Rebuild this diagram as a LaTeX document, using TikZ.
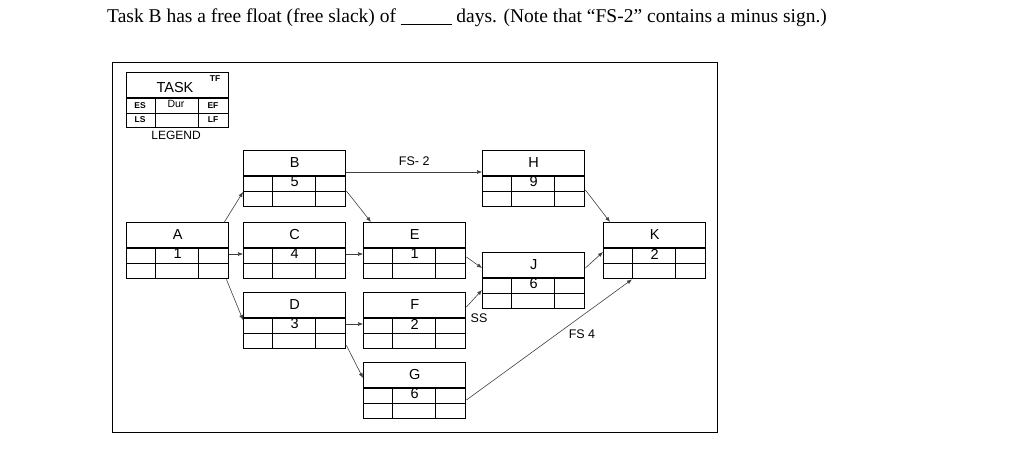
\documentclass[tikz,border=0pt]{standalone}
\usepackage{fontspec}
\setmainfont{Liberation Serif}
\newfontfamily\sansf{Liberation Sans}
\usetikzlibrary{calc,arrows.meta}
\begin{document}
\begin{tikzpicture}[x=1pt,y=-1pt,
  box/.style={draw,line width=1.4pt,minimum width=102pt,minimum height=56pt,anchor=north west,inner sep=0pt},
  arr/.style={draw=black!75,line width=0.6pt,-{Latex[length=5pt,width=4pt]}},
  lbl/.style={font=\sansf\fontsize{12.5}{14}\selectfont,inner sep=0pt},
  big/.style={font=\sansf\fontsize{14.5}{16}\selectfont,inner sep=0pt},
  tiny/.style={font=\sansf\bfseries\fontsize{8.5}{9}\selectfont,inner sep=0pt}]
\useasboundingbox (0,0) rectangle (1024,460);
\newcommand{\tsk}[5]{%
  \node[box] (#1) at (#2,#3) {};
  \draw[line width=1.4pt] ($(#1.north west)+(0,26)$) -- ($(#1.north east)+(0,26)$);
  \draw[line width=0.6pt] ($(#1.north west)+(0,41)$) -- ($(#1.north east)+(0,41)$);
  \draw[line width=1pt] ($(#1.north west)+(29,26)$) -- ($(#1.south west)+(29,0)$);
  \draw[line width=1pt] ($(#1.north west)+(72,26)$) -- ($(#1.south west)+(72,0)$);
  \node[big] (#1t) at ($(#1.north)+(0,13)$) {#4};
  \node[big] (#1d) at ($(#1.north)+(0,32)$) {#5};
}
\node[font=\fontsize{19.5}{22}\selectfont,anchor=west,inner sep=0pt] (hdr) at (107,18) {Task B has a free float (free slack) of \underline{\hspace{2.6em}} days. (Note that “FS-2” contains a minus sign.)};
\node[draw,line width=0.9pt,minimum width=605pt,minimum height=370pt,anchor=north west,inner sep=0pt] (frame) at (112,62) {};
% legend
\node[draw,line width=1.4pt,minimum width=102pt,minimum height=55pt,anchor=north west,inner sep=0pt] (leg) at (126,72) {};
\draw[line width=1.4pt] ($(leg.north west)+(0,26)$) -- ($(leg.north east)+(0,26)$);
\draw[line width=0.6pt] ($(leg.north west)+(0,41)$) -- ($(leg.north east)+(0,41)$);
\draw[line width=1pt] ($(leg.north west)+(29,26)$) -- ($(leg.south west)+(29,0)$);
\draw[line width=1pt] ($(leg.north west)+(72,26)$) -- ($(leg.south west)+(72,0)$);
\node[big] (legt) at (175,88) {TASK};
\node[tiny] (legtf) at (215,79) {TF};
\node[tiny] (leges) at (140,106) {ES};
\node[font=\sansf\fontsize{10.5}{12}\selectfont,inner sep=0pt] (legdur) at (176,104) {Dur};
\node[tiny] (legef) at (213,106) {EF};
\node[tiny] (legls) at (140,120) {LS};
\node[tiny] (legl) at (213,120) {LF};
\node[font=\sansf\fontsize{12}{13}\selectfont,inner sep=0pt] (legend) at (176,135) {LEGEND};
% tasks
\tsk{A}{126}{222}{A}{1}
\tsk{B}{243}{150}{B}{5}
\tsk{C}{243}{222}{C}{4}
\tsk{D}{243}{292}{D}{3}
\tsk{E}{363}{222}{E}{1}
\tsk{F}{363}{292}{F}{2}
\tsk{G}{363}{362}{G}{6}
\tsk{H}{482}{150}{H}{9}
\tsk{J}{482}{252}{J}{6}
\tsk{K}{603}{222}{K}{2}
% arrows
\draw[arr] ($(A.north east)+(-5,0)$) -- ($(B.north west)+(0,42)$);
\draw[arr] ($(A.north east)+(0,32)$) -- ($(C.north west)+(0,32)$);
\draw[arr] ($(A.south east)+(-3,0)$) -- ($(D.north west)+(0,28)$);
\draw[arr] ($(B.north east)+(0,41)$) -- ($(E.north west)+(8,0)$);
\draw[arr] ($(C.north east)+(0,32)$) -- ($(E.north west)+(0,32)$);
\draw[arr] ($(D.north east)+(0,32)$) -- ($(F.north west)+(0,32)$);
\draw[arr] ($(D.south east)+(0,-4)$) -- ($(G.north west)+(0,16)$);
\draw[arr] ($(B.north east)+(0,22)$) -- node[lbl,above=6pt] {FS- 2} ($(H.north west)+(0,22)$);
\draw[arr] ($(E.north east)+(0,35)$) -- ($(J.north west)+(0,16)$);
\draw[arr] ($(F.north east)+(0,15)$) -- ($(J.north west)+(0,38)$);
\node[lbl] (ss) at (479,318) {SS};
\draw[arr] ($(H.north east)+(0,40)$) -- ($(K.north west)+(7,0)$);
\draw[arr] ($(J.north east)+(0,16)$) -- ($(K.north west)+(0,30)$);
\draw[arr] ($(G.north east)+(0,38)$) -- ($(K.south west)+(29,0)$);
\node[lbl] (fs4) at (582,334) {FS 4};
\end{tikzpicture}
\end{document}
